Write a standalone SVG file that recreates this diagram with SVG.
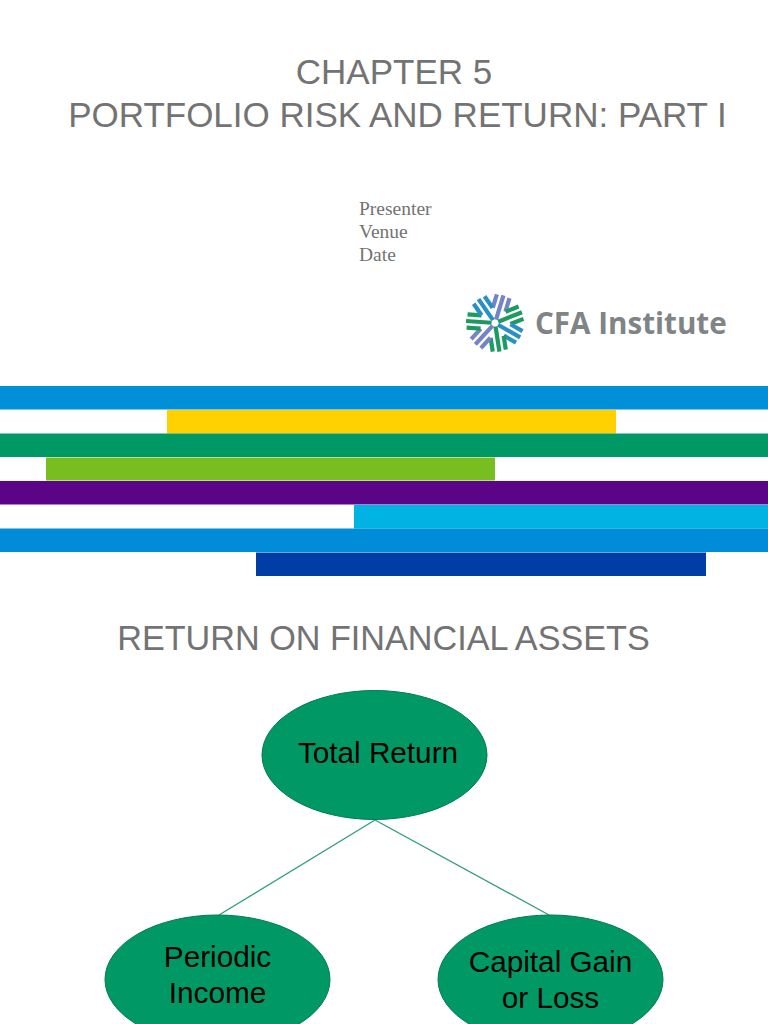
<svg xmlns="http://www.w3.org/2000/svg" width="768" height="1024" viewBox="0 0 768 1024">
<style>
.title{font-family:"Liberation Sans",Arial,sans-serif;font-size:35px;fill:#737373;text-anchor:middle}
.meta{font-family:"Liberation Serif","Times New Roman",serif;font-size:19.500px;fill:#737373}
.label{font-family:"Liberation Sans",Arial,sans-serif;font-size:29.700px;fill:#000;text-anchor:middle}
.node{fill:#009966;stroke:#007a52;stroke-width:1}
.conn{stroke:#2f9e78;stroke-width:1.3;fill:none}
.logo{font-family:"Open Sans","Liberation Sans",sans-serif;font-weight:700;font-size:29.600px;fill:#7f8487}
.bl{stroke:#2a8fc4}.pu{stroke:#7484c9}.gr{stroke:#1d9a60}
</style>
<defs>
<g id="blade" stroke-width="4.200" fill="none">
<line x1="-6.600" y1="-14" x2="-6.600" y2="-28"/>
<line x1="0" y1="-3.500" x2="0" y2="-29"/>
<line x1="6.600" y1="-14" x2="6.600" y2="-28"/>
</g>
</defs>
<rect width="768" height="1024" fill="#fff"/>
<text class="title" x="394" y="83.500">CHAPTER 5</text>
<text class="title" x="397.500" y="126.500">PORTFOLIO RISK AND RETURN: PART I</text>
<text class="meta" x="359" y="214.500">Presenter</text>
<text class="meta" x="359" y="237.500">Venue</text>
<text class="meta" x="359" y="260.500">Date</text>
<g id="logo">
<g transform="translate(495 323)">
<use class="pu" href="#blade" transform="rotate(17)"/>
<use class="gr" href="#blade" transform="rotate(68.400)"/>
<use class="bl" href="#blade" transform="rotate(119.800)"/>
<use class="gr" href="#blade" transform="rotate(171.200)"/>
<use class="pu" href="#blade" transform="rotate(222.600)"/>
<use class="gr" href="#blade" transform="rotate(274)"/>
<use class="bl" href="#blade" transform="rotate(325.400)"/>
</g>
<text class="logo" x="535" y="334">CFA Institute</text>
</g>
<g id="bars">
<rect x="0" y="386" width="768" height="23.500" fill="#0090d7"/>
<rect x="167" y="410" width="449" height="23.500" fill="#ffd100"/>
<rect x="0" y="433.500" width="768" height="23.500" fill="#009966"/>
<rect x="46" y="457.500" width="449" height="23" fill="#78be20"/>
<rect x="0" y="481" width="768" height="23.500" fill="#5b0488"/>
<rect x="354" y="505" width="414" height="23.500" fill="#00b3e3"/>
<rect x="0" y="528.500" width="768" height="23.500" fill="#008cd6"/>
<rect x="256" y="552.500" width="450" height="23.500" fill="#003da5"/>
</g>
<text class="title" style="font-size:34.200px" x="383.500" y="649.500">RETURN ON FINANCIAL ASSETS</text>
<g id="connectors">
<line class="conn" x1="375" y1="820" x2="219" y2="915"/>
<line class="conn" x1="375" y1="820" x2="549" y2="915"/>
</g>
<g id="total-return">
<ellipse class="node" cx="374.500" cy="755" rx="112.500" ry="64.500"/>
<text class="label" x="378" y="763">Total Return</text>
</g>
<g id="periodic-income">
<ellipse class="node" cx="217.500" cy="979.500" rx="112.500" ry="64.500"/>
<text class="label" x="217.500" y="967">Periodic</text>
<text class="label" x="217.500" y="1003">Income</text>
</g>
<g id="capital-gain">
<ellipse class="node" cx="550.500" cy="979.500" rx="112.500" ry="64.500"/>
<text class="label" x="550.500" y="972">Capital Gain</text>
<text class="label" x="550.500" y="1008">or Loss</text>
</g>
</svg>
